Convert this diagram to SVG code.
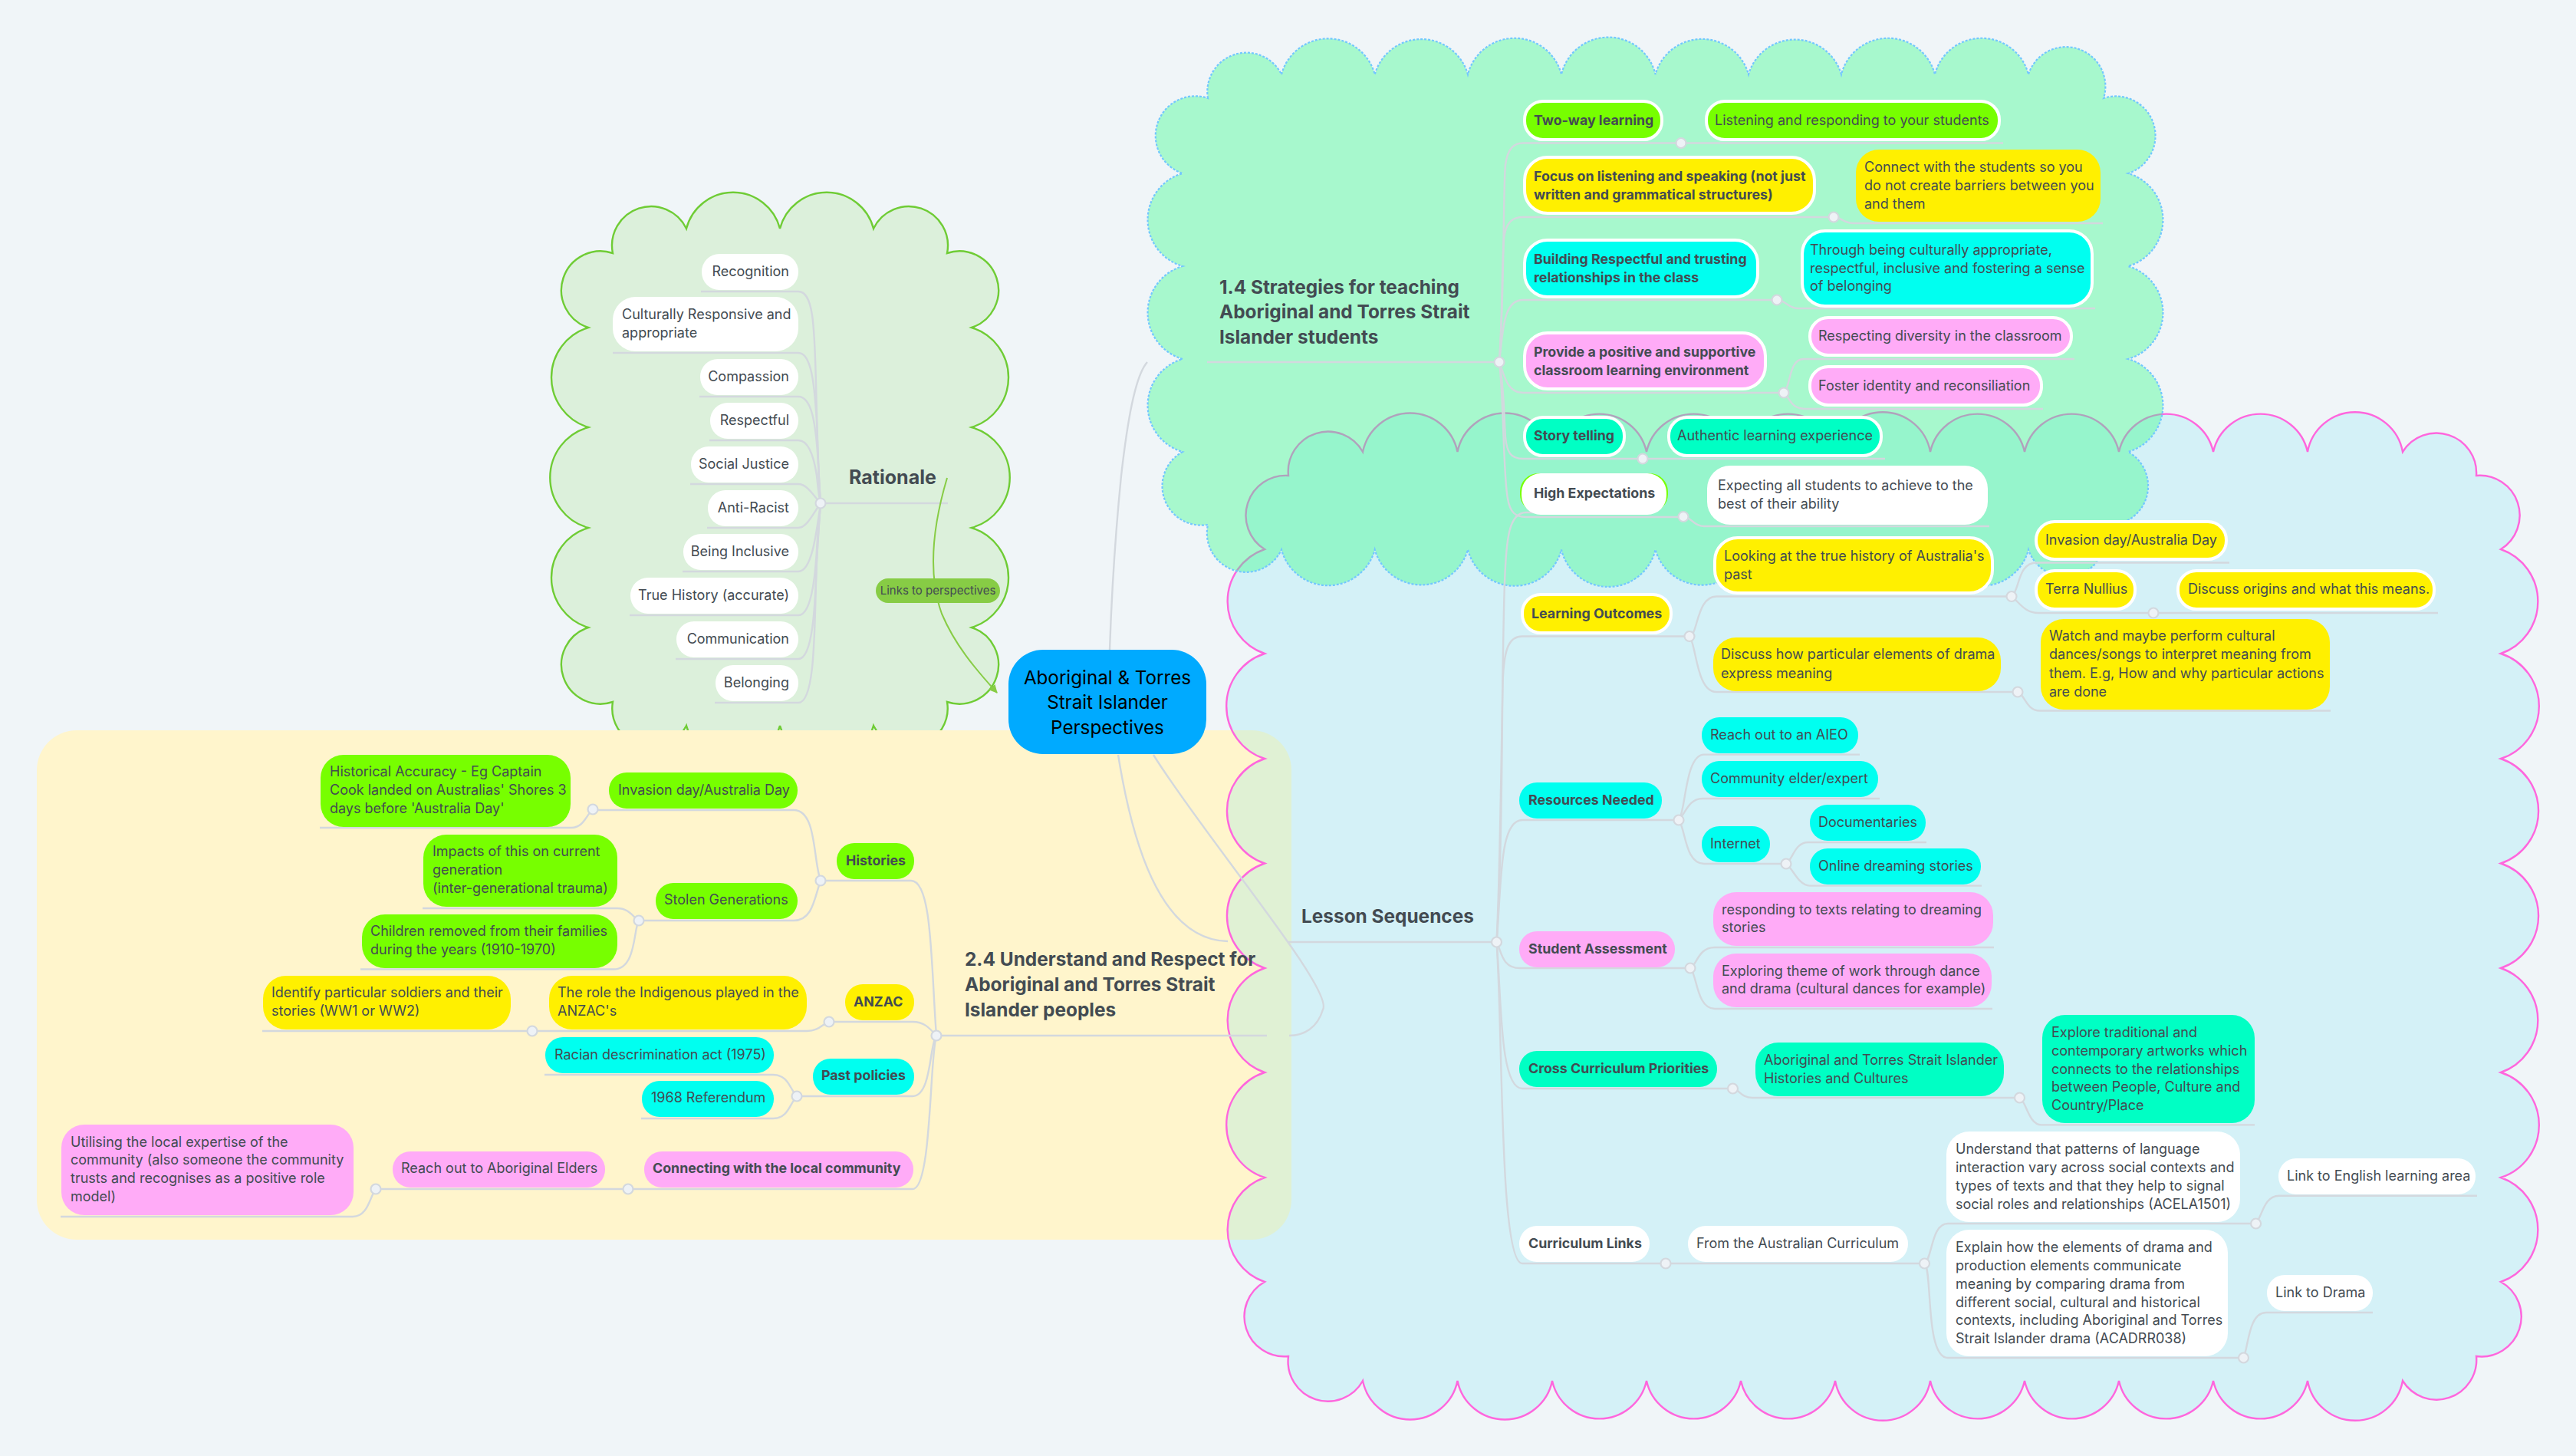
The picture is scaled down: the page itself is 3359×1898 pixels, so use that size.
<svg xmlns="http://www.w3.org/2000/svg" width="3359" height="1898" viewBox="0 0 3359 1898">
<style>
text{font-family:"Inter","Liberation Sans",sans-serif;font-size:18px;fill:#434b52;dominant-baseline:central;transform:translateY(-1px)}
.b{font-weight:700;font-size:17.8px}
.h{font-weight:700;font-size:24.4px}
.r{font-size:24.200px;fill:#000;text-anchor:middle}
.l{fill:none;stroke:#d3d8de;stroke-width:2.4}
.d{fill:#eef2f6;stroke:#d3d8de;stroke-width:2.2}
.w{fill:#fff}.g{fill:#77ff00}.y{fill:#fff000}.c{fill:#00fff0}.p{fill:#ffabf7}.t{fill:#00ffc4}
.s{stroke:#fff;stroke-width:4}
</style>
<defs><marker id="arr" viewBox="0 0 10 10" refX="9" refY="5" markerWidth="11" markerHeight="11" orient="auto" markerUnits="userSpaceOnUse"><path d="M0 0L10 5L0 10Z" fill="#87cc45"/></marker></defs>
<rect width="3359" height="1898" fill="#f0f5f8"/>
<g id="boundaries">
<path id="cloud-rationale" fill="#dcf0db" stroke="#6fcc35" stroke-width="2.4" d="M799 330A51 51 0 0 1 895 298A63 63 0 0 1 1017 298A63 63 0 0 1 1139 298A51 51 0 0 1 1235 330A51 51 0 0 1 1267 427A68 68 0 0 1 1267 557A68 68 0 0 1 1267 688A68 68 0 0 1 1267 818A51 51 0 0 1 1235 915A51 51 0 0 1 1139 946A63 63 0 0 1 1017 946A63 63 0 0 1 895 946A51 51 0 0 1 799 915A51 51 0 0 1 767 818A68 68 0 0 1 767 688A68 68 0 0 1 767 557A68 68 0 0 1 767 427A51 51 0 0 1 799 330Z"/>
<rect id="box-understand" x="48" y="952" width="1636" height="664" rx="52" fill="#fff5cc"/>
<path id="cloud-lesson" fill="#64e1f3" fill-opacity=".2" stroke="#ff66dd" stroke-width="2.4" d="M1680 620A52 52 0 0 1 1777 589A63 63 0 0 1 1900.500 589A63 63 0 0 1 2024 589A63 63 0 0 1 2147 589A63 63 0 0 1 2270 589A63 63 0 0 1 2393 589A63 63 0 0 1 2517 589A63 63 0 0 1 2640 589A63 63 0 0 1 2763 589A63 63 0 0 1 2886 589A63 63 0 0 1 3009 589A63 63 0 0 1 3133 589A52 52 0 0 1 3229 620A52 52 0 0 1 3261 716A72 72 0 0 1 3261 852A72 72 0 0 1 3261 989A72 72 0 0 1 3261 1125.500A72 72 0 0 1 3261 1262A72 72 0 0 1 3261 1398A72 72 0 0 1 3261 1535A72 72 0 0 1 3261 1671A52 52 0 0 1 3229 1768A52 52 0 0 1 3133 1800A63 63 0 0 1 3009 1800A63 63 0 0 1 2886 1800A63 63 0 0 1 2763 1800A63 63 0 0 1 2640 1800A63 63 0 0 1 2517 1800A63 63 0 0 1 2393 1800A63 63 0 0 1 2270 1800A63 63 0 0 1 2147 1800A63 63 0 0 1 2024 1800A63 63 0 0 1 1900.500 1800A63 63 0 0 1 1777 1800A52 52 0 0 1 1680 1768A52 52 0 0 1 1649 1671A72 72 0 0 1 1649 1535A72 72 0 0 1 1649 1398A72 72 0 0 1 1649 1262A72 72 0 0 1 1649 1125.500A72 72 0 0 1 1649 989A72 72 0 0 1 1649 852A72 72 0 0 1 1649 716A52 52 0 0 1 1680 620Z"/>
<path id="cloud-strategies" fill="#39fc8c" fill-opacity=".4" stroke="#73c7ff" stroke-width="2.2" stroke-dasharray="3 2" d="M1575 128A51 51 0 0 1 1671 97A63 63 0 0 1 1792.700 97A63 63 0 0 1 1914 97A63 63 0 0 1 2036 97A63 63 0 0 1 2158.600 97A63 63 0 0 1 2280 97A63 63 0 0 1 2401 97A63 63 0 0 1 2523 97A63 63 0 0 1 2645 97A51 51 0 0 1 2743 128A51 51 0 0 1 2775 226A63 63 0 0 1 2775 347A63 63 0 0 1 2775 468A63 63 0 0 1 2775 589A51 51 0 0 1 2743 684A51 51 0 0 1 2645 716.500A63 63 0 0 1 2523 716.500A63 63 0 0 1 2401 716.500A63 63 0 0 1 2280 716.500A63 63 0 0 1 2158.600 716.500A63 63 0 0 1 2036 716.500A63 63 0 0 1 1914 716.500A63 63 0 0 1 1792.700 716.500A63 63 0 0 1 1671 716.500A51 51 0 0 1 1575 684A51 51 0 0 1 1542 589A63 63 0 0 1 1542 468A63 63 0 0 1 1542 347A63 63 0 0 1 1542 226A51 51 0 0 1 1575 128Z"/>
</g>
<g id="connectors">
<path class="l" d="M1447 847C1450 760 1456 680 1462 620C1470 550 1480 490 1496 472"/>
<path class="l" d="M1458 984C1475 1090 1510 1225 1601 1227"/>
<path class="l" d="M1504 984C1570 1090 1740 1290 1725 1316C1718 1340 1700 1350 1681 1350"/>
<path class="l" d="M1574 472H1955M1680 1228H1951.500M1221 1350H1652M1076 656H1236"/>
<path class="l" d="M914 380H1041C1060 380 1062 420 1064 500C1066 580 1068 640 1070 656"/>
<path class="l" d="M799 460H1041C1058 460 1062 500 1065 550C1067 600 1068 640 1070 656"/>
<path class="l" d="M912 517H1041C1058 517 1063 550 1066 590C1068 620 1069 640 1070 656"/>
<path class="l" d="M925 574H1041C1056 574 1062 600 1065 620C1067 640 1068 650 1070 656"/>
<path class="l" d="M900 631H1041C1052 631 1060 645 1070 656"/>
<path class="l" d="M922 688H1041C1052 688 1060 670 1070 656"/>
<path class="l" d="M890 745H1041C1058 745 1064 700 1070 656"/>
<path class="l" d="M821 802H1041C1060 802 1064 740 1066 700C1068 680 1069 670 1070 656"/>
<path class="l" d="M881 859H1041C1060 859 1063 790 1065 730C1067 700 1068 680 1070 656"/>
<path class="l" d="M932 916H1041C1062 916 1062 830 1064 760C1065 720 1068 680 1070 656"/>
<path class="l" d="M1955 472C1962 380 1960 240 1963 215C1966 192 1975 186.500 1986 186.500H2612"/>
<path class="l" d="M1955 472C1960 400 1958 320 1962 305C1965 290 1972 283 1986 283H2391C2400 283 2405 291 2417 291H2742"/>
<path class="l" d="M1955 472C1960 430 1960 391 1986 391H2317C2328 391 2332 402 2345 402H2732"/>
<path class="l" d="M1955 472C1962 490 1965 512 1986 512H2326C2335 505 2332 468 2352 468H2705"/>
<path class="l" d="M2326 512C2335 520 2335 533 2355 533H2664"/>
<path class="l" d="M1955 472C1961 500 1961 540 1963 570C1965 590 1970 598 1986 598H2458"/>
<path class="l" d="M1955 472C1961 520 1960 620 1966 650C1969 668 1976 674 1990 674H2195C2205 673 2208 686 2222 686H2594"/>
<path class="l" d="M1951.500 1228C1958 1100 1959 830 1962 760C1964 700 1968 668 1990 668H2111"/>
<path class="l" d="M1951.500 1228C1960 1100 1958 900 1960 880C1962 845 1968 829.500 1985 829.500H2203"/>
<path class="l" d="M2203 829.500C2214 829 2212 777.500 2238 777.500H2623C2634 770 2630 733.500 2656 733.500H2907"/>
<path class="l" d="M2623 777.500C2633 785 2640 799 2658 799H3179"/>
<path class="l" d="M2203 829.500C2212 840 2212 902 2238 902H2631C2640 905 2642 926.500 2660 926.500H3039"/>
<path class="l" d="M1951.500 1228C1958 1150 1955 1069 1985 1069H2189"/>
<path class="l" d="M2189 1069C2198 1060 2197 983.600 2222 983.600H2425"/>
<path class="l" d="M2189 1069C2198 1060 2202 1041 2220 1041H2451"/>
<path class="l" d="M2189 1069C2198 1080 2197 1126 2222 1126H2329C2338 1120 2340 1098 2358 1098H2512"/>
<path class="l" d="M2329 1126C2338 1132 2345 1154.600 2360 1154.600H2584"/>
<path class="l" d="M1951.500 1228C1958 1240 1958 1262 1982 1262H2204C2213 1258 2214 1235 2236 1235H2600"/>
<path class="l" d="M2204 1262C2213 1270 2212 1315 2236 1315H2598"/>
<path class="l" d="M1951.500 1228C1958 1300 1955 1419 1985 1419H2259.500C2268 1420 2270 1431 2285 1431H2633.500C2642 1435 2645 1466.400 2662 1466.400H2940"/>
<path class="l" d="M1951.500 1228C1960 1350 1955 1647 1985 1647H2509.500C2520 1640 2518 1595 2540 1595H2941.600C2950 1585 2952 1558.700 2972 1558.700H3230"/>
<path class="l" d="M2509.500 1647C2520 1655 2510 1770 2540 1770H2925.500C2932 1755 2932 1711 2955 1711H3094"/>
<path class="l" d="M1221 1350C1214 1260 1216 1148 1188 1148H1070C1060 1120 1065 1056 1035 1056H773C765 1060 762 1079 745 1079H417"/>
<path class="l" d="M1070 1148C1062 1170 1060 1200 1035 1200H833C825 1195 820 1184 805 1184H551"/>
<path class="l" d="M833 1200C826 1210 830 1263.500 800 1263.500H470"/>
<path class="l" d="M1221 1350C1212 1340 1205 1332 1190 1332H1081C1072 1335 1068 1344 1052 1344H342"/>
<path class="l" d="M1221 1350C1212 1360 1215 1429 1190 1429H1039C1030 1420 1028 1401 1008 1401H710"/>
<path class="l" d="M1039 1429C1030 1438 1028 1458 1008 1458H836"/>
<path class="l" d="M1221 1350C1212 1380 1215 1550 1190 1550H490C482 1560 480 1586 460 1586H79"/>
<circle class="d" cx="1070" cy="656" r="6.500"/><circle class="d" cx="1955" cy="472" r="6.500"/><circle class="d" cx="2192" cy="186.500" r="6.500"/><circle class="d" cx="2391" cy="283" r="6.500"/><circle class="d" cx="2317" cy="391" r="6.500"/><circle class="d" cx="2326" cy="512" r="6.500"/><circle class="d" cx="2142" cy="598" r="6.500"/><circle class="d" cx="2195" cy="673.500" r="6.500"/><circle class="d" cx="1951.500" cy="1228" r="6.500"/><circle class="d" cx="2203" cy="829.500" r="6.500"/><circle class="d" cx="2623" cy="777.500" r="6.500"/><circle class="d" cx="2808" cy="799" r="6.500"/><circle class="d" cx="2631" cy="902" r="6.500"/><circle class="d" cx="2189" cy="1069" r="6.500"/><circle class="d" cx="2329" cy="1126" r="6.500"/><circle class="d" cx="2204" cy="1262" r="6.500"/><circle class="d" cx="2259.500" cy="1419" r="6.500"/><circle class="d" cx="2633.500" cy="1431" r="6.500"/><circle class="d" cx="2172" cy="1647" r="6.500"/><circle class="d" cx="2509.500" cy="1647" r="6.500"/><circle class="d" cx="2941.600" cy="1595" r="6.500"/><circle class="d" cx="2925.500" cy="1770" r="6.500"/><circle class="d" cx="1221" cy="1350" r="6.500"/><circle class="d" cx="1070" cy="1148" r="6.500"/><circle class="d" cx="773" cy="1055" r="6.500"/><circle class="d" cx="833" cy="1200" r="6.500"/><circle class="d" cx="1081" cy="1332" r="6.500"/><circle class="d" cx="694" cy="1344" r="6.500"/><circle class="d" cx="1039" cy="1429" r="6.500"/><circle class="d" cx="819" cy="1550" r="6.500"/><circle class="d" cx="490" cy="1550" r="6.500"/>
</g>
<g id="root"><rect x="1315" y="847" width="258" height="136" rx="45" fill="#00aaff"/><text class="r" x="1444" y="884">Aboriginal &amp; Torres</text><text class="r" x="1444" y="916">Strait Islander</text><text class="r" x="1444" y="949">Perspectives</text></g>
<g id="rationale"><text class="h" x="1107" y="623" style="font-size:25px">Rationale</text></g>
<g id="n-recognition"><rect class="w" x="915" y="331" width="126" height="47" rx="23"/><text x="1029" y="354" text-anchor="end">Recognition</text></g>
<g id="n-culturally"><rect class="w" x="799" y="387" width="242" height="71" rx="30"/><text x="811" y="410">Culturally Responsive and</text><text x="811" y="434">appropriate</text></g>
<g id="n-compassion"><rect class="w" x="913" y="468" width="128" height="47" rx="23"/><text x="1029" y="491" text-anchor="end">Compassion</text></g>
<g id="n-respectful"><rect class="w" x="926" y="525" width="115" height="47" rx="23"/><text x="1029" y="548" text-anchor="end">Respectful</text></g>
<g id="n-social"><rect class="w" x="901" y="582" width="140" height="47" rx="23"/><text x="1029" y="605" text-anchor="end">Social Justice</text></g>
<g id="n-antiracist"><rect class="w" x="923" y="639" width="118" height="47" rx="23"/><text x="1029" y="662" text-anchor="end">Anti-Racist</text></g>
<g id="n-inclusive"><rect class="w" x="891" y="696" width="150" height="47" rx="23"/><text x="1029" y="719" text-anchor="end">Being Inclusive</text></g>
<g id="n-truehistory"><rect class="w" x="822" y="753" width="219" height="47" rx="23"/><text x="1029" y="776" text-anchor="end">True History (accurate)</text></g>
<g id="n-communication"><rect class="w" x="882" y="810" width="159" height="47" rx="23"/><text x="1029" y="833" text-anchor="end">Communication</text></g>
<g id="n-belonging"><rect class="w" x="933" y="867" width="108" height="47" rx="23"/><text x="1029" y="890" text-anchor="end">Belonging</text></g>
<path id="rel-links" d="M1235 623C1215 690 1210 750 1228 800C1245 840 1270 870 1300 903" fill="none" stroke="#87cc45" stroke-width="2" marker-end="url(#arr)"/>
<g id="n-links"><rect x="1142" y="754" width="162" height="32" rx="16" fill="#87cc45"/><text x="1223" y="770" text-anchor="middle" style="font-size:15px">Links to perspectives</text></g>
<g id="strategies"><text class="h" x="1590" y="374.500">1.4 Strategies for teaching</text><text class="h" x="1590" y="407">Aboriginal and Torres Strait</text><text class="h" x="1590" y="440">Islander students</text></g>
<g id="s-twoway"><rect class="g s" x="1988" y="132" width="179" height="50" rx="24"/><text class="b" x="2000" y="157">Two-way learning</text></g>
<g id="s-listening"><rect class="g s" x="2225" y="132" width="382" height="50" rx="24"/><text x="2236" y="157">Listening and responding to your students</text></g>
<g id="s-focus"><rect class="y s" x="1988" y="205" width="378" height="73" rx="30"/><text class="b" x="2000" y="230">Focus on listening and speaking (not just</text><text class="b" x="2000" y="254">written and grammatical structures)</text></g>
<g id="s-connect"><rect class="y" x="2420" y="195" width="319" height="94" rx="30"/><text x="2431" y="218">Connect with the students so you</text><text x="2431" y="242">do not create barriers between you</text><text x="2431" y="266">and them</text></g>
<g id="s-building"><rect class="c s" x="1988" y="313" width="304" height="74" rx="30"/><text class="b" x="2000" y="338">Building Respectful and trusting</text><text class="b" x="2000" y="362">relationships in the class</text></g>
<g id="s-through"><rect class="c s" x="2350" y="301" width="378" height="98" rx="30"/><text x="2360" y="326">Through being culturally appropriate,</text><text x="2360" y="350">respectful, inclusive and fostering a sense</text><text x="2360" y="373.500">of belonging</text></g>
<g id="s-provide"><rect class="p s" x="1988" y="434" width="314" height="73" rx="30"/><text class="b" x="2000" y="459">Provide a positive and supportive</text><text class="b" x="2000" y="483">classroom learning environment</text></g>
<g id="s-respecting"><rect class="p s" x="2360" y="414" width="341" height="49" rx="24"/><text x="2371" y="438">Respecting diversity in the classroom</text></g>
<g id="s-foster"><rect class="p s" x="2360" y="478" width="302" height="50" rx="24"/><text x="2371" y="503">Foster identity and reconsiliation</text></g>
<g id="s-story"><rect class="t s" x="1988" y="544" width="130" height="50" rx="24"/><text class="b" x="2000" y="568">Story telling</text></g>
<g id="s-authentic"><rect class="t s" x="2176" y="544" width="277" height="50" rx="24"/><text x="2187" y="568">Authentic learning experience</text></g>
<g id="s-high"><rect class="g" x="1982" y="617" width="193" height="51" rx="24"/><rect class="w" x="1984" y="617" width="189" height="54" rx="25"/><text class="b" x="2000" y="643">High Expectations</text></g>
<g id="s-expecting"><rect class="w" x="2226" y="607" width="366" height="77" rx="30"/><text x="2240" y="633">Expecting all students to achieve to the</text><text x="2240" y="657">best of their ability</text></g>
<g id="lesson"><text class="h" x="1697" y="1195">Lesson Sequences</text></g>
<g id="l-outcomes"><rect class="y s" x="1985" y="775" width="194" height="50" rx="24"/><text class="b" x="1997" y="800">Learning Outcomes</text></g>
<g id="l-looking"><rect class="y s" x="2236" y="701" width="362" height="72" rx="30"/><text x="2248" y="725">Looking at the true history of Australia's</text><text x="2248" y="749">past</text></g>
<g id="l-invasion"><rect class="y s" x="2655" y="680" width="248" height="49" rx="24"/><text x="2667" y="704">Invasion day/Australia Day</text></g>
<g id="l-terra"><rect class="y s" x="2655" y="744" width="129" height="50" rx="24"/><text x="2667" y="768">Terra Nullius</text></g>
<g id="l-origins"><rect class="y s" x="2840" y="744" width="334" height="50" rx="24"/><text x="2853" y="768">Discuss origins and what this means.</text></g>
<g id="l-discuss"><rect class="y" x="2234" y="831" width="375" height="70" rx="30"/><text x="2244" y="853">Discuss how particular elements of drama</text><text x="2244" y="878">express meaning</text></g>
<g id="l-watch"><rect class="y" x="2661" y="807" width="377" height="118" rx="30"/><text x="2672" y="829.500">Watch and maybe perform cultural</text><text x="2672" y="853.700">dances/songs to interpret meaning from</text><text x="2672" y="878">them. E.g, How and why particular actions</text><text x="2672" y="902">are done</text></g>
<g id="l-resources"><rect class="c" x="1981" y="1020" width="186" height="47" rx="23"/><text class="b" x="1993" y="1043">Resources Needed</text></g>
<g id="l-reach"><rect class="c" x="2219" y="935" width="204" height="47" rx="23"/><text x="2230" y="958">Reach out to an AIEO</text></g>
<g id="l-community"><rect class="c" x="2219" y="992" width="230" height="47" rx="23"/><text x="2230" y="1015">Community elder/expert</text></g>
<g id="l-internet"><rect class="c" x="2219" y="1077" width="89" height="47" rx="23"/><text x="2230" y="1100">Internet</text></g>
<g id="l-documentaries"><rect class="c" x="2360" y="1049" width="151" height="47" rx="23"/><text x="2371" y="1072">Documentaries</text></g>
<g id="l-online"><rect class="c" x="2360" y="1106" width="223" height="47" rx="23"/><text x="2371" y="1129">Online dreaming stories</text></g>
<g id="l-assessment"><rect class="p" x="1981" y="1214" width="203" height="47" rx="23"/><text class="b" x="1993" y="1237">Student Assessment</text></g>
<g id="l-responding"><rect class="p" x="2234" y="1163" width="365" height="70" rx="30"/><text x="2245" y="1186">responding to texts relating to dreaming</text><text x="2245" y="1209.500">stories</text></g>
<g id="l-exploring"><rect class="p" x="2234" y="1243" width="363" height="70" rx="30"/><text x="2245" y="1266">Exploring theme of work through dance</text><text x="2245" y="1289">and drama (cultural dances for example)</text></g>
<g id="l-cross"><rect class="t" x="1981" y="1370" width="258" height="47" rx="23"/><text class="b" x="1993" y="1393">Cross Curriculum Priorities</text></g>
<g id="l-histories"><rect class="t" x="2289" y="1359" width="324" height="70" rx="30"/><text x="2300" y="1382">Aboriginal and Torres Strait Islander</text><text x="2300" y="1406">Histories and Cultures</text></g>
<g id="l-explore"><rect class="t" x="2663" y="1323" width="277" height="141" rx="30"/><text x="2675" y="1346">Explore traditional and</text><text x="2675" y="1370">contemporary artworks which</text><text x="2675" y="1394">connects to the relationships</text><text x="2675" y="1417.600">between People, Culture and</text><text x="2675" y="1441">Country/Place</text></g>
<g id="l-curriculum"><rect class="w" x="1981" y="1598" width="170" height="47" rx="23"/><text class="b" x="1993" y="1621">Curriculum Links</text></g>
<g id="l-from"><rect class="w" x="2201" y="1598" width="287" height="47" rx="23"/><text x="2212" y="1621">From the Australian Curriculum</text></g>
<g id="l-understand"><rect class="w" x="2538" y="1475" width="383" height="118" rx="30"/><text x="2550" y="1498">Understand that patterns of language</text><text x="2550" y="1522">interaction vary across social contexts and</text><text x="2550" y="1546">types of texts and that they help to signal</text><text x="2550" y="1570">social roles and relationships (ACELA1501)</text></g>
<g id="l-explain"><rect class="w" x="2538" y="1603" width="367" height="165" rx="30"/><text x="2550" y="1626">Explain how the elements of drama and</text><text x="2550" y="1650">production elements communicate</text><text x="2550" y="1674">meaning by comparing drama from</text><text x="2550" y="1698">different social, cultural and historical</text><text x="2550" y="1721">contexts, including Aboriginal and Torres</text><text x="2550" y="1745">Strait Islander drama (ACADRR038)</text></g>
<g id="l-english"><rect class="w" x="2971" y="1510" width="257" height="47" rx="23"/><text x="2982" y="1533">Link to English learning area</text></g>
<g id="l-drama"><rect class="w" x="2956" y="1662" width="138" height="47" rx="23"/><text x="2967" y="1685">Link to Drama</text></g>
<g id="understand"><text class="h" x="1258" y="1251">2.4 Understand and Respect for</text><text class="h" x="1258" y="1283.500">Aboriginal and Torres Strait</text><text class="h" x="1258" y="1317">Islander peoples</text></g>
<g id="u-histories"><rect class="g" x="1091" y="1099" width="101" height="47" rx="23"/><text class="b" x="1103" y="1122">Histories</text></g>
<g id="u-invasion"><rect class="g" x="794" y="1007" width="246" height="47" rx="23"/><text x="806" y="1030">Invasion day/Australia Day</text></g>
<g id="u-historical"><rect class="g" x="418" y="984" width="326" height="94" rx="30"/><text x="430" y="1006.400">Historical Accuracy - Eg Captain</text><text x="430" y="1030">Cook landed on Australias' Shores 3</text><text x="430" y="1054">days before 'Australia Day'</text></g>
<g id="u-stolen"><rect class="g" x="855" y="1151" width="185" height="47" rx="23"/><text x="866" y="1173">Stolen Generations</text></g>
<g id="u-impacts"><rect class="g" x="552" y="1088" width="253" height="94" rx="30"/><text x="564" y="1110.500">Impacts of this on current</text><text x="564" y="1134">generation</text><text x="564" y="1158">(inter-generational trauma)</text></g>
<g id="u-children"><rect class="g" x="472" y="1192" width="333" height="70" rx="30"/><text x="483" y="1214.500">Children removed from their families</text><text x="483" y="1238">during the years (1910-1970)</text></g>
<g id="u-anzac"><rect class="y" x="1102" y="1283" width="90" height="47" rx="23"/><text class="b" x="1113" y="1306">ANZAC</text></g>
<g id="u-role"><rect class="y" x="716" y="1272" width="336" height="70" rx="30"/><text x="727" y="1294">The role the Indigenous played in the</text><text x="727" y="1318">ANZAC's</text></g>
<g id="u-identify"><rect class="y" x="343" y="1272" width="323" height="70" rx="30"/><text x="354" y="1294">Identify particular soldiers and their</text><text x="354" y="1318">stories (WW1 or WW2)</text></g>
<g id="u-past"><rect class="c" x="1060" y="1380" width="132" height="47" rx="23"/><text class="b" x="1071" y="1402">Past policies</text></g>
<g id="u-racian"><rect class="c" x="711" y="1352" width="298" height="47" rx="23"/><text x="723" y="1375">Racian descrimination act (1975)</text></g>
<g id="u-referendum"><rect class="c" x="837" y="1409" width="172" height="47" rx="23"/><text x="849" y="1431">1968 Referendum</text></g>
<g id="u-connecting"><rect class="p" x="840" y="1501" width="351" height="47" rx="23"/><text class="b" x="851" y="1523">Connecting with the local community</text></g>
<g id="u-elders"><rect class="p" x="512" y="1501" width="277" height="47" rx="23"/><text x="523" y="1523">Reach out to Aboriginal Elders</text></g>
<g id="u-utilising"><rect class="p" x="80" y="1466" width="381" height="118" rx="30"/><text x="92" y="1489">Utilising the local expertise of the</text><text x="92" y="1512.500">community (also someone the community</text><text x="92" y="1536">trusts and recognises as a positive role</text><text x="92" y="1560">model)</text></g>
</svg>
